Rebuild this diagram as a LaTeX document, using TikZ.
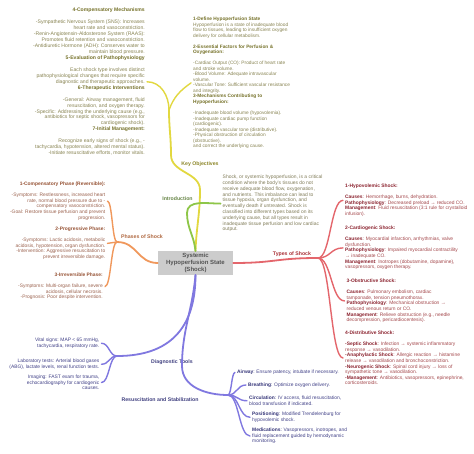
\documentclass[tikz,border=0pt]{standalone}
\usepackage{fontspec}
\setmainfont{Liberation Sans}
\usetikzlibrary{calc}
\definecolor{koLine}{RGB}{226,216,64}
\definecolor{koHead}{RGB}{118,114,42}
\definecolor{koText}{RGB}{136,132,82}
\definecolor{koLbl}{RGB}{140,134,40}
\definecolor{inLine}{RGB}{142,198,72}
\definecolor{inText}{RGB}{128,124,88}
\definecolor{inLbl}{RGB}{104,134,72}
\definecolor{phLine}{RGB}{240,152,92}
\definecolor{phHead}{RGB}{150,82,52}
\definecolor{phText}{RGB}{156,100,80}
\definecolor{phLbl}{RGB}{176,104,64}
\definecolor{tyLine}{RGB}{228,102,108}
\definecolor{tyHead}{RGB}{140,36,48}
\definecolor{tyText}{RGB}{164,72,76}
\definecolor{tyLbl}{RGB}{170,50,56}
\definecolor{dgLine}{RGB}{128,120,224}
\definecolor{dgHead}{RGB}{52,52,120}
\definecolor{dgText}{RGB}{66,66,136}
\definecolor{dgLbl}{RGB}{64,64,128}
\definecolor{rootFill}{RGB}{204,204,204}
\definecolor{rootText}{RGB}{84,84,84}
\newcommand{\kohd}[1]{{\bfseries\color{koHead}#1}}
\newcommand{\phhd}[1]{{\bfseries\color{phHead}#1}}
\newcommand{\tyhd}[1]{{\bfseries\color{tyHead}#1}}
\newcommand{\rskey}[1]{{\bfseries\color{dgHead}#1}}

\begin{document}
\begin{tikzpicture}[x=1pt, y=-1pt, line cap=round,
    txt/.style={inner xsep=2pt, inner ysep=0pt, font=\fontsize{4.9}{5.55}\selectfont},
    lbl/.style={inner sep=0pt, font=\fontsize{5.2}{6}\selectfont\bfseries},
    root/.style={fill=rootFill, text=rootText, font=\fontsize{6}{7}\selectfont\bfseries, align=center, minimum width=75pt, minimum height=23.5pt, inner sep=0pt},
    mmlink/.style={to path={let \p1=(\tikztostart), \p2=(\tikztotarget) in .. controls ({0.5*\x1+0.5*\x2},\y1) and ({0.5*\x1+0.5*\x2},\y2) .. (\tikztotarget)}},
    mainln/.style={line width=1.8pt},
    subln/.style={line width=1.4pt}]
  \fill[white] (0,0) rectangle (474,453);
  \useasboundingbox (0,0) rectangle (474,453);

  \node[root] (root) at (195.5,263) {Systemic\\Hypoperfusion State\\(Shock)};

  % key objectives
  \node[txt, text=koText, align=right, anchor=north east, font=\fontsize{5.1}{5.95}\selectfont] (kol) at (147,8) {\kohd{4-Compensatory Mechanisms}\\[\baselineskip]
    -Sympathetic Nervous System (SNS): Increases\\
    heart rate and vasoconstriction.\\
    -Renin-Angiotensin-Aldosterone System (RAAS):\\
    Promotes fluid retention and vasoconstriction.\\
    -Antidiuretic Hormone (ADH): Conserves water to\\
    maintain blood pressure.\\
    \kohd{5-Evaluation of Pathophysiology}\\[\baselineskip]
    Each shock type involves distinct\\
    pathophysiological changes that require specific\\
    diagnostic and therapeutic approaches.\\
    \kohd{6-Therapeutic Interventions}\\[\baselineskip]
    -General: Airway management, fluid\\
    resuscitation, and oxygen therapy.\\
    -Specific: Addressing the underlying cause (e.g.,\\
    antibiotics for septic shock, vasopressors for\\
    cardiogenic shock).\\
    \kohd{7-Initial Management:}\\[\baselineskip]
    Recognize early signs of shock (e.g., -\\
    tachycardia, hypotension, altered mental status).\\
    -Initiate resuscitative efforts, monitor vitals.};
  \node[txt, text=koText, align=left, anchor=north west, font=\fontsize{4.8}{5.52}\selectfont] (kor) at (191,17) {\kohd{1-Define Hypoperfusion State}\\
    Hypoperfusion is a state of inadequate blood\\
    flow to tissues, leading to insufficient oxygen\\
    delivery for cellular metabolism.\\[\baselineskip]
    \kohd{2-Essential Factors for Perfusion \&}\\
    \kohd{Oxygenation:}\\[\baselineskip]
    -Cardiac Output (CO): Product of heart rate\\
    and stroke volume.\\
    -Blood Volume: Adequate intravascular\\
    volume.\\
    -Vascular Tone: Sufficient vascular resistance\\
    and integrity.\\
    \kohd{3-Mechanisms Contributing to}\\
    \kohd{Hypoperfusion:}\\[\baselineskip]
    -Inadequate blood volume (hypovolemia).\\
    -Inadequate cardiac pump function\\
    (cardiogenic).\\
    -Inadequate vascular tone (distributive).\\
    -Physical obstruction of circulation\\
    (obstructive).\\
    and correct the underlying cause.};
  \node[lbl, text=koLbl] (kolbl) at (200,164) {Key Objectives};

  % introduction
  \node[txt, text=inText, align=left, anchor=north west, font=\fontsize{4.95}{5.8}\selectfont] (intro) at (220.5,175) {Shock, or systemic hypoperfusion, is a critical\\
    condition where the body's tissues do not\\
    receive adequate blood flow, oxygenation,\\
    and nutrients. This imbalance can lead to\\
    tissue hypoxia, organ dysfunction, and\\
    eventually death if untreated. Shock is\\
    classified into different types based on its\\
    underlying cause, but all types result in\\
    inadequate tissue perfusion and low cardiac\\
    output.};
  \node[lbl, text=inLbl] (inlbl) at (177.5,198.5) {Introduction};

  % phases of shock
  \node[txt, text=phText, align=right, anchor=north east] (ph1) at (107.5,182) {\phhd{1-Compensatory Phase (Reversible):}\\[\baselineskip]
    -Symptoms: Restlessness, increased heart\\
    rate, normal blood pressure due to -\\
    compensatory vasoconstriction.\\
    -Goal: Restore tissue perfusion and prevent\\
    progression.};
  \node[txt, text=phText, align=right, anchor=north east] (ph2) at (107.5,227) {\phhd{2-Progressive Phase:}\\[\baselineskip]
    -Symptoms: Lactic acidosis, metabolic\\
    acidosis, hypotension, organ dysfunction.\\
    -Intervention: Aggressive resuscitation to\\
    prevent irreversible damage.};
  \node[txt, text=phText, align=right, anchor=north east] (ph3) at (105,273) {\phhd{3-Irreversible Phase:}\\[\baselineskip]
    -Symptoms: Multi-organ failure, severe\\
    acidosis, cellular necrosis.\\
    -Prognosis: Poor despite intervention.};
  \node[lbl, text=phLbl] (phlbl) at (142,237) {Phases of Shock};

  % types of shock
  \node[txt, text=tyText, align=left, anchor=north west] (ty1) at (343,184) {\tyhd{1-Hypovolemic Shock:}\\[\baselineskip]
    \tyhd{Causes}: Hemorrhage, burns, dehydration.\\
    \tyhd{Pathophysiology}: Decreased preload → reduced CO.\\
    \tyhd{Management}: Fluid resuscitation (3:1 rule for crystalloid\\
    infusion).};
  \node[txt, text=tyText, align=left, anchor=north west] (ty2) at (343,226) {\tyhd{2-Cardiogenic Shock:}\\[\baselineskip]
    \tyhd{Causes}: Myocardial infarction, arrhythmias, valve\\
    dysfunction.\\
    \tyhd{Pathophysiology}: Impaired myocardial contractility\\
    → inadequate CO.\\
    \tyhd{Management}: Inotropes (dobutamine, dopamine),\\
    vasopressors, oxygen therapy.};
  \node[txt, text=tyText, align=left, anchor=north west] (ty3) at (344.5,279) {\tyhd{3-Obstructive Shock:}\\[\baselineskip]
    \tyhd{Causes}: Pulmonary embolism, cardiac\\
    tamponade, tension pneumothorax.\\
    \tyhd{Pathophysiology}: Mechanical obstruction →\\
    reduced venous return or CO.\\
    \tyhd{Management}: Relieve obstruction (e.g., needle\\
    decompression, pericardiocentesis).};
  \node[txt, text=tyText, align=left, anchor=north west] (ty4) at (343,331) {\tyhd{4-Distributive Shock:}\\[\baselineskip]
    \tyhd{-Septic Shock}: Infection → systemic inflammatory\\
    response → vasodilation.\\
    \tyhd{-Anaphylactic Shock}: Allergic reaction → histamine\\
    release → vasodilation and bronchoconstriction.\\
    \tyhd{-Neurogenic Shock}: Spinal cord injury → loss of\\
    sympathetic tone → vasodilation.\\
    \tyhd{-Management}: Antibiotics, vasopressors, epinephrine,\\
    corticosteroids.};
  \node[lbl, text=tyLbl] (tylbl) at (292,254) {Types of Shock};

  % diagnostic tools
  \node[txt, text=dgText, align=right, anchor=north east] (dg1) at (101.5,338) {Vital signs: MAP < 65 mmHg,\\tachycardia, respiratory rate.};
  \node[txt, text=dgText, align=right, anchor=north east] (dg2) at (101.5,359) {Laboratory tests: Arterial blood gases\\(ABG), lactate levels, renal function tests.};
  \node[txt, text=dgText, align=right, anchor=north east] (dg3) at (101.5,375) {Imaging: FAST exam for trauma,\\echocardiography for cardiogenic\\causes.};
  \node[lbl, text=dgLbl] (dglbl) at (172,362) {Diagnostic Tools};

  % resuscitation and stabilization
  \node[txt, text=dgText, align=left, anchor=north west] (rs1) at (235,370) {\rskey{Airway}: Ensure patency, intubate if necessary.};
  \node[txt, text=dgText, align=left, anchor=north west] (rs2) at (246,382.5) {\rskey{Breathing}: Optimize oxygen delivery.};
  \node[txt, text=dgText, align=left, anchor=north west] (rs3) at (247,396) {\rskey{Circulation}: IV access, fluid resuscitation,\\blood transfusion if indicated.};
  \node[txt, text=dgText, align=left, anchor=north west] (rs4) at (250,412) {\rskey{Positioning}: Modified Trendelenburg for\\hypovolemic shock.};
  \node[txt, text=dgText, align=left, anchor=north west] (rs5) at (250,428) {\rskey{Medications}: Vasopressors, inotropes, and\\fluid replacement guided by hemodynamic\\monitoring.};
  \node[lbl, text=dgLbl] (rslbl) at (160,400) {Resuscitation and Stabilization};

  % forks and bends
  \coordinate (kobend) at (200,190);
  \coordinate (kotop) at (171,155);
  \coordinate (kofork) at (169,110);
  \coordinate (inbend) at (187,213);
  \coordinate (phfork) at (117,242);
  \coordinate (tyfork) at (318,258);
  \coordinate (dgfork) at (117,356);
  \coordinate (rsbend) at (182,366);
  \coordinate (rsfork) at (228,395);

  % connectors
  \draw[mainln, koLine] (root.north) to[out=88,in=-90] (kobend) to[out=90,in=-90] (kotop) to[out=90,in=-90] (kofork);
  \draw[subln, koLine] (kofork) to[out=90,in=0] (kol.east);
  \draw[subln, koLine] (kofork) to[out=70,in=215] (kor.west);
  \draw[mainln, inLine] (root.north) to[out=95,in=-90] (inbend) to[out=90,in=180] (intro.west);
  \draw[mainln, phLine] (root.west) to[mmlink] (phfork);
  \foreach \c in {ph1,ph2,ph3} {\draw[subln, phLine] (phfork) to[mmlink] (\c.east);}
  \draw[mainln, tyLine] (root.east) to[mmlink] (tyfork);
  \foreach \c in {ty1,ty2,ty3,ty4} {\draw[subln, tyLine] (tyfork) to[mmlink] (\c.west);}
  \draw[mainln, dgLine] (root.south) to[out=-90,in=0,looseness=1.2] (dgfork);
  \foreach \c in {dg1,dg2,dg3} {\draw[subln, dgLine] (dgfork) to[mmlink] (\c.east);}
  \draw[mainln, dgLine] (root.south) to[out=-95,in=90] (rsbend) to[out=-90,in=180] (rsfork);
  \foreach \c in {rs1,rs2,rs3,rs4,rs5} {\draw[subln, dgLine] (rsfork) to[mmlink] (\c.west);}
\end{tikzpicture}
\end{document}
